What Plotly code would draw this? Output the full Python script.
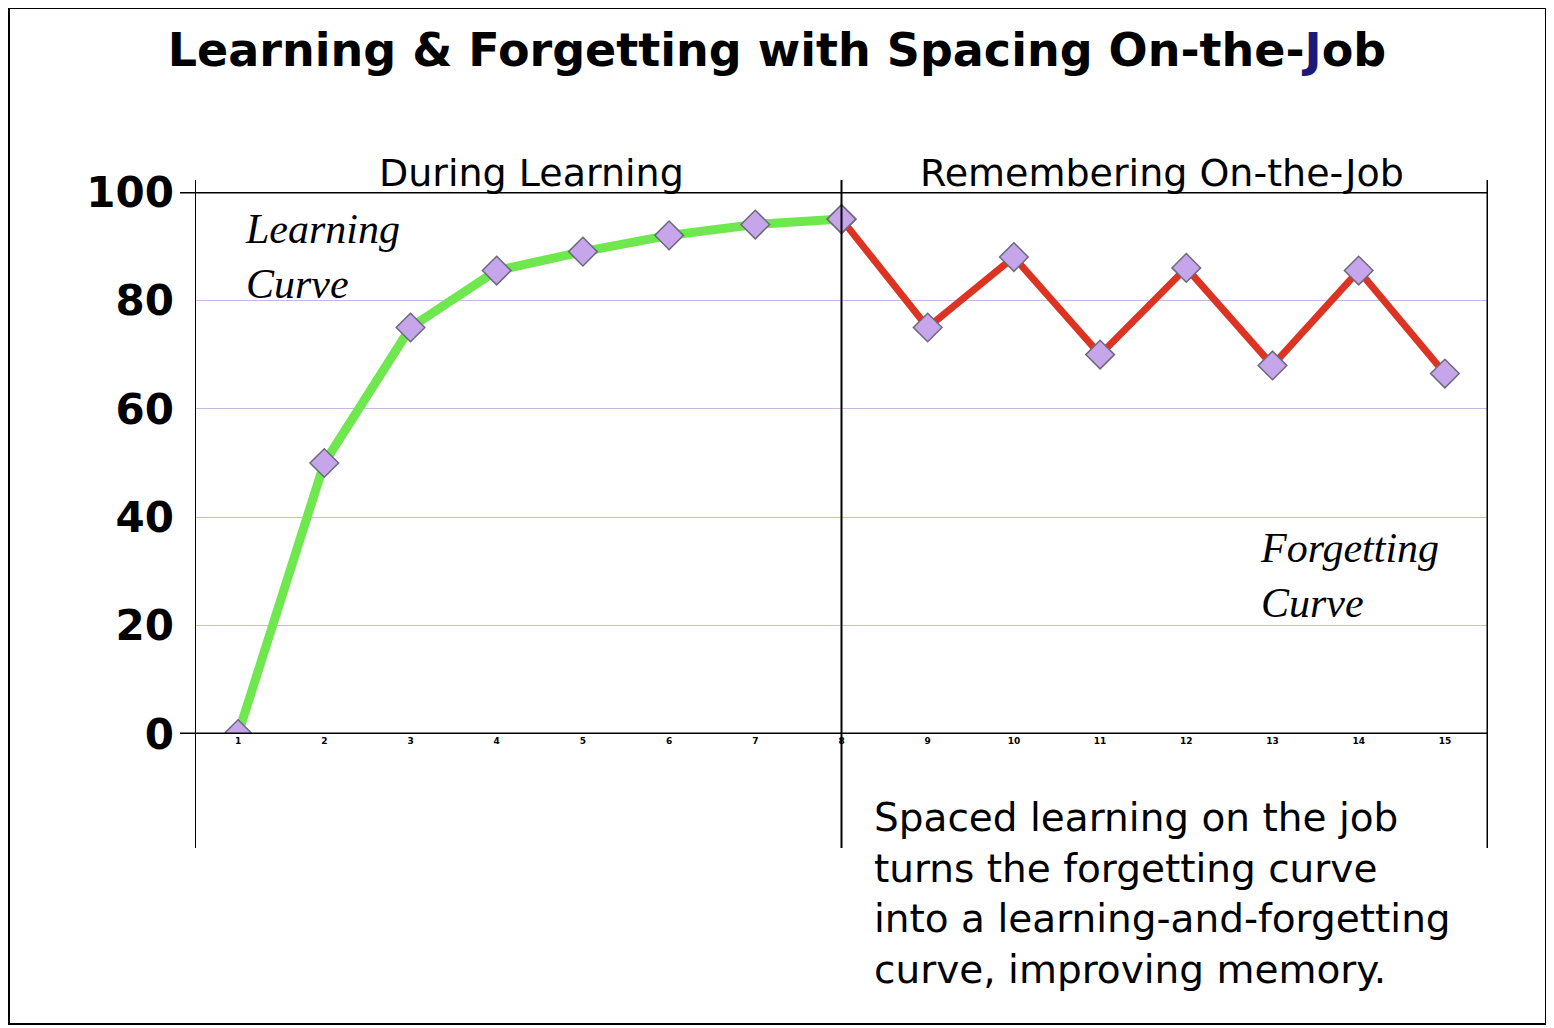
import plotly.graph_objects as go

learn_x = [1, 2, 3, 4, 5, 6, 7, 8]
learn_y = [0, 50, 75, 85.5, 89, 92, 94, 95]
forget_x = [8, 9, 10, 11, 12, 13, 14, 15]
forget_y = [95, 75, 88, 70, 86, 68, 85.5, 66.5]
tick_vals = list(range(1, 16))

# the page body has an 8px margin, so the figure is shrunk by that much
OFF = 8
W, H = 1554 - OFF, 1028 - OFF
L, R, T, B = 195 - OFF, 74 - OFF, 192 - OFF, 302 - OFF

marker = dict(symbol='diamond', size=22, color='#c7a5ea', line=dict(color='#6a6a7a', width=1.5))

fig = go.Figure()
fig.add_trace(go.Scatter(x=learn_x, y=learn_y, mode='lines+markers',
                         line=dict(color='#6ee84e', width=9), marker=marker))
fig.add_trace(go.Scatter(x=forget_x, y=forget_y, mode='lines+markers',
                         line=dict(color='#dd3322', width=7), marker=marker))


def px_y(p):
    # screen pixel -> paper y
    return (H - B - (p - OFF)) / (H - T - B)


def px_x(p):
    return ((p - OFF) - L) / (W - L - R)


shapes = [
    dict(type='rect', xref='paper', yref='paper', x0=px_x(9), x1=px_x(1546), y0=px_y(1024), y1=px_y(8),
         line=dict(color='black', width=2)),
    dict(type='line', xref='x', yref='paper', x0=0.5, x1=0.5, y0=px_y(848), y1=px_y(180), line=dict(color='black', width=2)),
    dict(type='line', xref='x', yref='paper', x0=8, x1=8, y0=px_y(848), y1=px_y(180), line=dict(color='black', width=2)),
    dict(type='line', xref='x', yref='paper', x0=15.5, x1=15.5, y0=px_y(848), y1=px_y(180), line=dict(color='black', width=3)),
    dict(type='line', xref='paper', yref='y', x0=px_x(180), x1=1, y0=100, y1=100, line=dict(color='black', width=3)),
    dict(type='line', xref='paper', yref='y', x0=px_x(180), x1=1, y0=0, y1=0, line=dict(color='black', width=3)),
]

ann = [
    dict(x=px_x(531), y=px_y(173), text='During Learning', xanchor='center', yanchor='middle',
         font=dict(size=38, family='DejaVu Sans')),
    dict(x=px_x(1162), y=px_y(173), text='Remembering On-the-Job', xanchor='center', yanchor='middle',
         font=dict(size=38, family='DejaVu Sans')),
    dict(x=px_x(243), y=px_y(204), text='<i>Learning<br>Curve</i>', align='left', xanchor='left', yanchor='top',
         font=dict(size=42, family='Liberation Serif')),
    dict(x=px_x(1258), y=px_y(523), text='<i>Forgetting<br>Curve</i>', align='left', xanchor='left', yanchor='top',
         font=dict(size=42, family='Liberation Serif')),
    dict(x=px_x(872), y=px_y(793), text='Spaced learning on the job<br>turns the forgetting curve<br>into a learning-and-forgetting<br>curve, improving memory.',
         align='left', xanchor='left', yanchor='top', font=dict(size=39, family='DejaVu Sans')),
]
for a in ann:
    a.update(xref='paper', yref='paper', showarrow=False)
    a['font']['color'] = 'black'

fig.update_layout(
    width=W, height=H, margin=dict(l=L, r=R, t=T, b=B),
    paper_bgcolor='white', plot_bgcolor='white', showlegend=False,
    title=dict(text='<b>Learning & Forgetting with Spacing On-the-<span style="color:#1a1a7a">J</span>ob</b>',
               x=px_x(777), xanchor='center', xref='paper', y=1 - (50 - OFF) / H, yanchor='middle',
               font=dict(size=46, family='DejaVu Sans', color='black')),
    xaxis=dict(range=[0.5, 15.5], tickvals=tick_vals, showgrid=False, zeroline=False,
               tickfont=dict(size=9, family='DejaVu Sans', color='black', weight='bold'), ticks=''),
    yaxis=dict(range=[0, 100], tickvals=[0, 20, 40, 60, 80, 100], showgrid=True, gridcolor='#c8b8e0',
               zeroline=False, ticks='', ticklabelstandoff=20,
               tickfont=dict(size=42, family='DejaVu Sans', color='black', weight='bold')),
    shapes=shapes, annotations=ann,
)
fig.write_html("out.html")
